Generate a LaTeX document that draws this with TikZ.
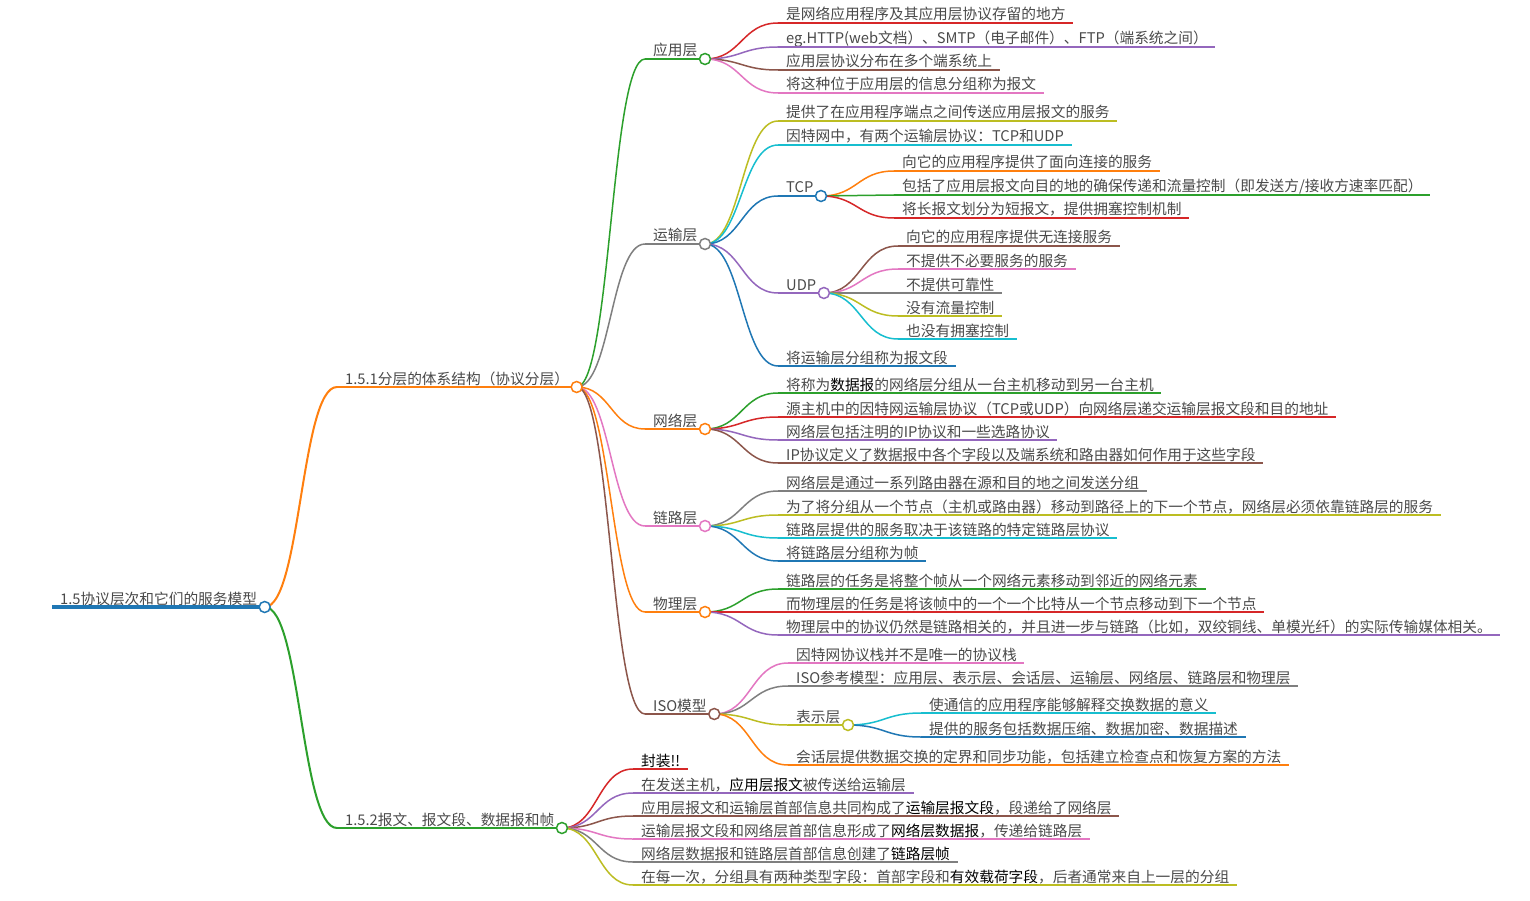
\documentclass[tikz,border=0pt]{standalone}
\usepackage{fontspec}
\setmainfont{Noto Sans CJK SC}
\usetikzlibrary{calc}
\definecolor{cblue}{HTML}{1F77B4}
\definecolor{corange}{HTML}{FF7F0E}
\definecolor{cgreen}{HTML}{2CA02C}
\definecolor{cred}{HTML}{D62728}
\definecolor{cpurple}{HTML}{9467BD}
\definecolor{cbrown}{HTML}{8C564B}
\definecolor{cpink}{HTML}{E377C2}
\definecolor{cgrey}{HTML}{7F7F7F}
\definecolor{colive}{HTML}{BCBD22}
\definecolor{ccyan}{HTML}{17BECF}
\definecolor{txt}{HTML}{4A4A4A}
\tikzset{
  mmtext/.style={inner sep=0pt, text=txt, font=\fontsize{14.7}{17}\selectfont},
  mmcirc/.style={circle, fill=white, line width=1.5pt, minimum size=11pt, inner sep=0pt},
}
\newcommand\hl[1]{\textcolor{black}{#1}}
\newcommand\mmnode[6]{%
  \node[mmtext, anchor=base west] (#1) at (#2+8,#3-3) {#6};
  \draw[draw=#4, line width=#5pt] (#2,#3) coordinate (#1-s) -- ($(#1.base east)+(7.5,3)$) coordinate (#1-e);
}
\newcommand\conn[4]{%
  \draw[draw=#3, line width=#4pt] let \p1=(#1-e), \p2=(#2-s) in
    (\p1) .. controls ({(\x1+\x2)/2},\y1) and ({(\x1+\x2)/2},\y2) .. (\p2);
}
\newcommand\mmcircle[2]{\node[mmcirc, draw=#2] (#1-c) at (#1-e) {};}
\begin{document}
\begin{tikzpicture}[x=1pt,y=-1pt]
\fill[white] (0,0) rectangle (1530,901);
\useasboundingbox (0,0) rectangle (1530,901);
% nodes
\mmnode{root}{52}{607}{cblue}{4}{1.5协议层次和它们的服务模型}
\mmnode{a}{337}{387}{corange}{2}{1.5.1分层的体系结构（协议分层）}
\mmnode{b}{337}{828}{cgreen}{2}{1.5.2报文、报文段、数据报和帧}
\mmnode{app}{645}{59}{cgreen}{1.5}{应用层}
\mmnode{tra}{645}{244}{cgrey}{1.5}{运输层}
\mmnode{net}{645}{429}{corange}{1.5}{网络层}
\mmnode{lnk}{645}{526}{cpink}{1.5}{链路层}
\mmnode{phy}{645}{612}{corange}{1.5}{物理层}
\mmnode{iso}{645}{714}{cbrown}{1.5}{ISO模型}
\mmnode{app1}{778}{23}{cred}{1.5}{是网络应用程序及其应用层协议存留的地方}
\mmnode{app2}{778}{47}{cpurple}{1.5}{eg.HTTP(web文档）、SMTP（电子邮件）、FTP（端系统之间）}
\mmnode{app3}{778}{70}{cbrown}{1.5}{应用层协议分布在多个端系统上}
\mmnode{app4}{778}{93}{cpink}{1.5}{将这种位于应用层的信息分组称为报文}
\mmnode{tra1}{778}{121}{colive}{1.5}{提供了在应用程序端点之间传送应用层报文的服务}
\mmnode{tra2}{778}{145}{ccyan}{1.5}{因特网中，有两个运输层协议：TCP和UDP}
\mmnode{tcp}{778}{196}{cblue}{1.5}{TCP}
\mmnode{udp}{778}{293}{cpurple}{1.5}{UDP}
\mmnode{tra3}{778}{366}{cblue}{1.5}{将运输层分组称为报文段}
\mmnode{tcp1}{894}{171}{corange}{1.5}{向它的应用程序提供了面向连接的服务}
\mmnode{tcp2}{894}{195}{cgreen}{1.5}{包括了应用层报文向目的地的确保传递和流量控制（即发送方/接收方速率匹配）}
\mmnode{tcp3}{894}{218}{cred}{1.5}{将长报文划分为短报文，提供拥塞控制机制}
\mmnode{udp1}{898}{246}{cbrown}{1.5}{向它的应用程序提供无连接服务}
\mmnode{udp2}{898}{269}{cpink}{1.5}{不提供不必要服务的服务}
\mmnode{udp3}{898}{293}{cgrey}{1.5}{不提供可靠性}
\mmnode{udp4}{898}{316}{colive}{1.5}{没有流量控制}
\mmnode{udp5}{898}{339}{ccyan}{1.5}{也没有拥塞控制}
\mmnode{net1}{778}{393}{cgreen}{1.5}{将称为\hl{数据报}的网络层分组从一台主机移动到另一台主机}
\mmnode{net2}{778}{417}{cred}{1.5}{源主机中的因特网运输层协议（TCP或UDP）向网络层递交运输层报文段和目的地址}
\mmnode{net3}{778}{440}{cpurple}{1.5}{网络层包括注明的IP协议和一些选路协议}
\mmnode{net4}{778}{463}{cbrown}{1.5}{IP协议定义了数据报中各个字段以及端系统和路由器如何作用于这些字段}
\mmnode{lnk1}{778}{491}{cgrey}{1.5}{网络层是通过一系列路由器在源和目的地之间发送分组}
\mmnode{lnk2}{778}{515}{colive}{1.5}{为了将分组从一个节点（主机或路由器）移动到路径上的下一个节点，网络层必须依靠链路层的服务}
\mmnode{lnk3}{778}{538}{ccyan}{1.5}{链路层提供的服务取决于该链路的特定链路层协议}
\mmnode{lnk4}{778}{561}{cblue}{1.5}{将链路层分组称为帧}
\mmnode{phy1}{778}{589}{cgreen}{1.5}{链路层的任务是将整个帧从一个网络元素移动到邻近的网络元素}
\mmnode{phy2}{778}{612}{cred}{1.5}{而物理层的任务是将该帧中的一个一个比特从一个节点移动到下一个节点}
\mmnode{phy3}{778}{635}{cpurple}{1.5}{物理层中的协议仍然是链路相关的，并且进一步与链路（比如，双绞铜线、单模光纤）的实际传输媒体相关。}
\mmnode{iso1}{788}{663}{cpink}{1.5}{因特网协议栈并不是唯一的协议栈}
\mmnode{iso2}{788}{686}{cgrey}{1.5}{ISO参考模型：应用层、表示层、会话层、运输层、网络层、链路层和物理层}
\mmnode{pres}{788}{725}{colive}{1.5}{表示层}
\mmnode{iso3}{788}{765}{corange}{1.5}{会话层提供数据交换的定界和同步功能，包括建立检查点和恢复方案的方法}
\mmnode{pres1}{921}{713}{ccyan}{1.5}{使通信的应用程序能够解释交换数据的意义}
\mmnode{pres2}{921}{737}{cblue}{1.5}{提供的服务包括数据压缩、数据加密、数据描述}
\mmnode{b1}{633}{769}{cred}{1.5}{\hl{封装!!}}
\mmnode{b2}{633}{793}{cpurple}{1.5}{在发送主机，\hl{应用层报文}被传送给运输层}
\mmnode{b3}{633}{816}{cbrown}{1.5}{应用层报文和运输层首部信息共同构成了\hl{运输层报文段}，段递给了网络层}
\mmnode{b4}{633}{839}{cpink}{1.5}{运输层报文段和网络层首部信息形成了\hl{网络层数据报}，传递给链路层}
\mmnode{b5}{633}{862}{cgrey}{1.5}{网络层数据报和链路层首部信息创建了\hl{链路层帧}}
\mmnode{b6}{633}{885}{colive}{1.5}{在每一次，分组具有两种类型字段：首部字段和\hl{有效载荷字段}，后者通常来自上一层的分组}
% connectors
\conn{root}{a}{corange}{2}
\conn{root}{b}{cgreen}{2}
\conn{a}{app}{cgreen}{1.5}
\conn{a}{tra}{cgrey}{1.5}
\conn{a}{net}{corange}{1.5}
\conn{a}{lnk}{cpink}{1.5}
\conn{a}{phy}{corange}{1.5}
\conn{a}{iso}{cbrown}{1.5}
\conn{app}{app1}{cred}{1.5}
\conn{app}{app2}{cpurple}{1.5}
\conn{app}{app3}{cbrown}{1.5}
\conn{app}{app4}{cpink}{1.5}
\conn{tra}{tra1}{colive}{1.5}
\conn{tra}{tra2}{ccyan}{1.5}
\conn{tra}{tcp}{cblue}{1.5}
\conn{tra}{udp}{cpurple}{1.5}
\conn{tra}{tra3}{cblue}{1.5}
\conn{tcp}{tcp1}{corange}{1.5}
\conn{tcp}{tcp2}{cgreen}{1.5}
\conn{tcp}{tcp3}{cred}{1.5}
\conn{udp}{udp1}{cbrown}{1.5}
\conn{udp}{udp2}{cpink}{1.5}
\conn{udp}{udp3}{cgrey}{1.5}
\conn{udp}{udp4}{colive}{1.5}
\conn{udp}{udp5}{ccyan}{1.5}
\conn{net}{net1}{cgreen}{1.5}
\conn{net}{net2}{cred}{1.5}
\conn{net}{net3}{cpurple}{1.5}
\conn{net}{net4}{cbrown}{1.5}
\conn{lnk}{lnk1}{cgrey}{1.5}
\conn{lnk}{lnk2}{colive}{1.5}
\conn{lnk}{lnk3}{ccyan}{1.5}
\conn{lnk}{lnk4}{cblue}{1.5}
\conn{phy}{phy1}{cgreen}{1.5}
\conn{phy}{phy2}{cred}{1.5}
\conn{phy}{phy3}{cpurple}{1.5}
\conn{iso}{iso1}{cpink}{1.5}
\conn{iso}{iso2}{cgrey}{1.5}
\conn{iso}{pres}{colive}{1.5}
\conn{iso}{iso3}{corange}{1.5}
\conn{pres}{pres1}{ccyan}{1.5}
\conn{pres}{pres2}{cblue}{1.5}
\conn{b}{b1}{cred}{1.5}
\conn{b}{b2}{cpurple}{1.5}
\conn{b}{b3}{cbrown}{1.5}
\conn{b}{b4}{cpink}{1.5}
\conn{b}{b5}{cgrey}{1.5}
\conn{b}{b6}{colive}{1.5}
% circles
\mmcircle{root}{cblue}
\mmcircle{a}{corange}
\mmcircle{b}{cgreen}
\mmcircle{app}{cgreen}
\mmcircle{tra}{cgrey}
\mmcircle{net}{corange}
\mmcircle{lnk}{cpink}
\mmcircle{phy}{corange}
\mmcircle{iso}{cbrown}
\mmcircle{tcp}{cblue}
\mmcircle{udp}{cpurple}
\mmcircle{pres}{colive}
\end{tikzpicture}
\end{document}
